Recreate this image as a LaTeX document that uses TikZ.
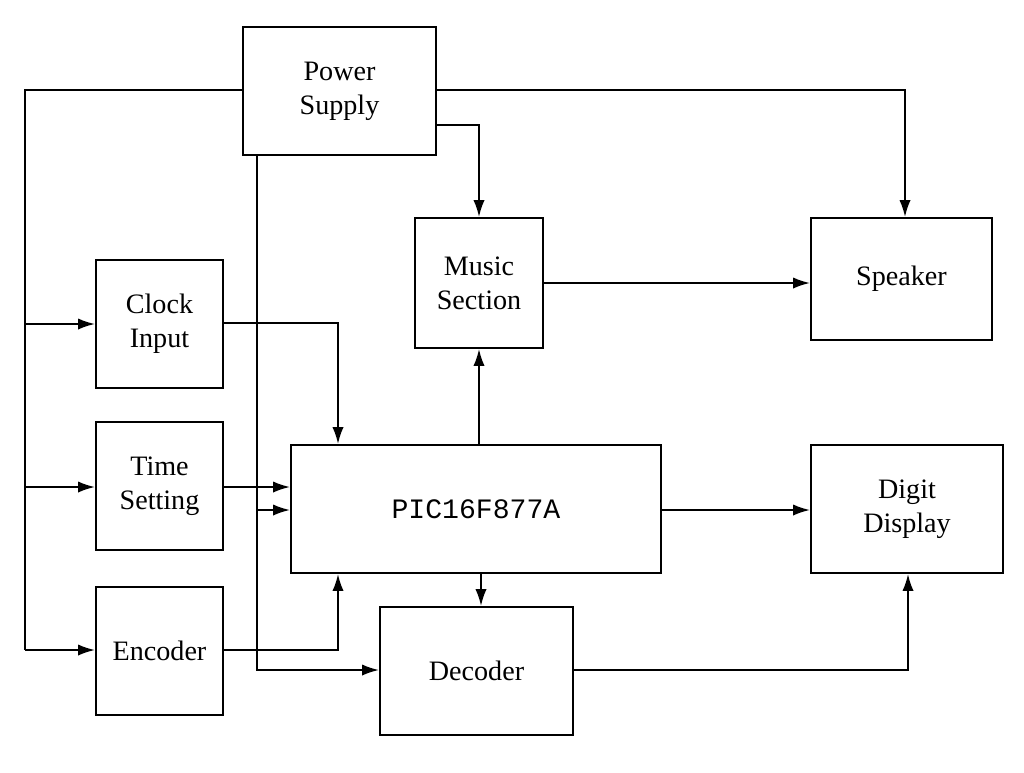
\documentclass[tikz,border=0pt]{standalone}
\usepackage{fontspec}
\setmainfont{Liberation Serif}
\newfontfamily\monof{Liberation Mono}
\usetikzlibrary{arrows.meta}
\begin{document}
\begin{tikzpicture}[x=0.025cm,y=-0.025cm,
  box/.style={draw,line width=1.4pt,inner sep=0,align=center,font=\fontsize{20}{24}\selectfont},
  ln/.style={line width=1.4pt},
  ar/.style={line width=1.4pt,-{Latex[length=12pt,width=8pt]}}]
\useasboundingbox (0,0) rectangle (1024,772);
\node[box,minimum width=193*0.025cm,minimum height=128*0.025cm] (ps) at (339.5,91) {Power\\Supply};
\node[box,minimum width=128*0.025cm,minimum height=130*0.025cm] (ms) at (479,283) {Music\\Section};
\node[box,minimum width=181*0.025cm,minimum height=122*0.025cm] (sp) at (901.5,279) {Speaker};
\node[box,minimum width=127*0.025cm,minimum height=128*0.025cm] (ci) at (159.5,324) {Clock\\Input};
\node[box,minimum width=127*0.025cm,minimum height=128*0.025cm] (ts) at (159.5,486) {Time\\Setting};
\node[box,minimum width=370*0.025cm,minimum height=128*0.025cm,font=\monof\fontsize{20}{24}\selectfont] (pic) at (476,509) {PIC16F877A};
\node[box,minimum width=192*0.025cm,minimum height=128*0.025cm] (dd) at (907,509) {Digit\\Display};
\node[box,minimum width=127*0.025cm,minimum height=128*0.025cm] (en) at (159.5,651) {Encoder};
\node[box,minimum width=193*0.025cm,minimum height=128*0.025cm] (de) at (476.5,671) {Decoder};
\coordinate (L) at (25,650);
\draw[ln] (ps.west |- 0,90) -| (L);
\draw[ar] (25,324) -- (ci.west |- 0,324);
\draw[ar] (25,487) -- (ts.west |- 0,487);
\draw[ar] (L) -- (en.west |- L);
\draw[ar] (ps.east |- 0,90) -| (sp.north -| 905,0);
\draw[ar] (ps.east |- 0,125) -| (ms.north);
\draw[ar] (ps.south -| 257,0) |- (de.west |- 0,670);
\draw[ar] (257,510) -- (pic.west |- 0,510);
\draw[ar] (ci.east |- 0,323) -| (pic.north -| 338,0);
\draw[ar] (ts.east |- 0,487) -- (pic.west |- 0,487);
\draw[ar] (en.east |- 0,650) -| (pic.south -| 338,0);
\draw[ar] (pic.north -| ms.south) -- (ms.south);
\draw[ar] (ms.east |- 0,283) -- (sp.west |- 0,283);
\draw[ar] (pic.east |- 0,510) -- (dd.west |- 0,510);
\draw[ar] (pic.south -| 481,0) -- (de.north -| 481,0);
\draw[ar] (de.east |- 0,670) -| (dd.south -| 908,0);
\end{tikzpicture}
\end{document}
